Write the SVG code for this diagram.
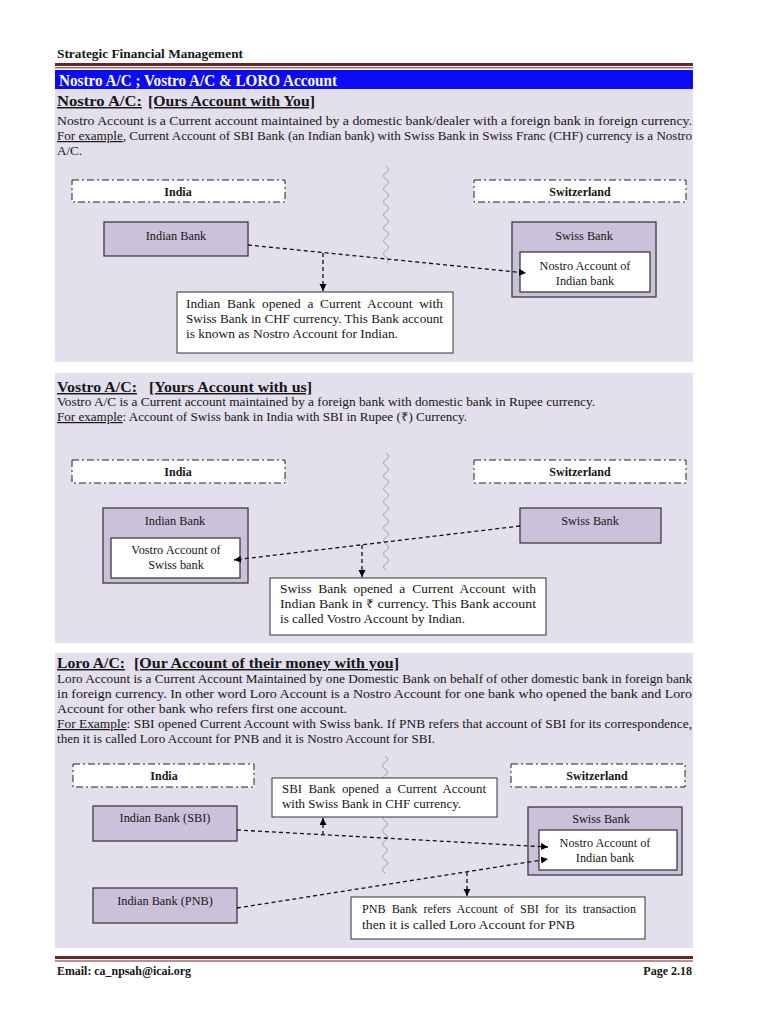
<svg xmlns="http://www.w3.org/2000/svg" width="768" height="1024" viewBox="0 0 768 1024">
<style>
text{font-family:"Liberation Serif","Times New Roman",serif;fill:#161616}
.b{font-size:12px}
.j{word-spacing:3px}
.hb{font-size:14.5px;font-weight:bold;text-decoration:underline}
.lbl{font-size:12px;font-weight:bold;text-anchor:middle}
.nt{font-size:12.3px;text-anchor:middle}
.bg{fill:#e4dfec}
.rule{fill:#6c2424}
.dd{fill:#fff;stroke:#222;stroke-width:1;stroke-dasharray:7 3 2 3}
.bank{fill:#ccc1da;stroke:#3c3c3c;stroke-width:1.3}
.inner{fill:#fff;stroke:#3c3c3c;stroke-width:1.3}
.note{fill:#fff;stroke:#333;stroke-width:1}
.wave{fill:none;stroke:#a0a0a0;stroke-width:1}
.dash{fill:none;stroke:#111;stroke-width:1.3;stroke-dasharray:4 3}
.u{text-decoration:underline}
</style>
<defs>
<marker id="ah" markerUnits="userSpaceOnUse" markerWidth="8" markerHeight="8" refX="7" refY="3.5" orient="auto">
<path d="M0,0 L7,3.5 L0,7 z" fill="#000"/>
</marker>
</defs>

<g id="page">
<rect x="0" y="0" width="768" height="1024" fill="#fff"/>
<text x="57" y="58" font-size="12.5" font-weight="bold" textLength="186" lengthAdjust="spacingAndGlyphs">Strategic Financial Management</text>
<rect class="rule" x="55" y="63" width="638" height="3"/>
<rect class="rule" x="55" y="67.3" width="638" height="1"/>
<rect x="55" y="70" width="638" height="19" fill="#0b0bf7"/>
<text x="59" y="86" font-size="16" font-weight="bold" style="fill:#fff" textLength="278" lengthAdjust="spacingAndGlyphs">Nostro A/C ; Vostro A/C &amp; LORO Account</text>
<rect class="bg" x="55" y="89" width="638" height="273"/>
<rect class="bg" x="55" y="373" width="638" height="270"/>
<rect class="bg" x="55" y="653" width="638" height="295"/>
<rect class="rule" x="55" y="956" width="638" height="3"/>
<rect class="rule" x="55" y="960.5" width="638" height="1"/>
<text x="57" y="975" font-size="12" font-weight="bold" textLength="134" lengthAdjust="spacingAndGlyphs">Email: ca_npsah@icai.org</text>
<text x="692" y="975" font-size="12" font-weight="bold" text-anchor="end">Page 2.18</text>
</g>

<g id="section1-text">
<text class="hb" x="57" y="106" textLength="85" lengthAdjust="spacingAndGlyphs">Nostro A/C:</text>
<text class="hb" x="148" y="106" textLength="167" lengthAdjust="spacingAndGlyphs">[Ours Account with You]</text>
<text class="b" x="57" y="125" textLength="635" lengthAdjust="spacingAndGlyphs">Nostro Account is a Current account maintained by a domestic bank/dealer with a foreign bank in foreign currency.</text>
<text class="b" x="57" y="140" textLength="635" lengthAdjust="spacingAndGlyphs"><tspan class="u">For example</tspan>, Current Account of SBI Bank (an Indian bank) with Swiss Bank in Swiss Franc (CHF) currency is a Nostro</text>
<text class="b" x="57" y="155" textLength="25" lengthAdjust="spacingAndGlyphs">A/C.</text>
</g>

<g id="section2-text">
<text class="hb" x="57" y="392" textLength="80" lengthAdjust="spacingAndGlyphs">Vostro A/C:</text>
<text class="hb" x="149" y="392" textLength="163" lengthAdjust="spacingAndGlyphs">[Yours Account with us]</text>
<text class="b" x="57" y="406" textLength="538" lengthAdjust="spacingAndGlyphs">Vostro A/C is a Current account maintained by a foreign bank with domestic bank in Rupee currency.</text>
<text class="b" x="57" y="421" textLength="410" lengthAdjust="spacingAndGlyphs"><tspan class="u">For example</tspan>: Account of Swiss bank in India with SBI in Rupee (₹) Currency.</text>
</g>

<g id="section3-text">
<text class="hb" x="57" y="668" textLength="68" lengthAdjust="spacingAndGlyphs">Loro A/C:</text>
<text class="hb" x="134" y="668" textLength="265" lengthAdjust="spacingAndGlyphs">[Our Account of their money with you]</text>
<text class="b" x="57" y="683" textLength="635" lengthAdjust="spacingAndGlyphs">Loro Account is a Current Account Maintained by one Domestic Bank on behalf of other domestic bank in foreign bank</text>
<text class="b" x="57" y="698" textLength="635" lengthAdjust="spacingAndGlyphs">in foreign currency. In other word Loro Account is a Nostro Account for one bank who opened the bank and Loro</text>
<text class="b" x="57" y="713" textLength="290" lengthAdjust="spacingAndGlyphs">Account for other bank who refers first one account.</text>
<text class="b" x="57" y="728" textLength="635" lengthAdjust="spacingAndGlyphs"><tspan class="u">For Example</tspan>: SBI opened Current Account with Swiss bank. If PNB refers that account of SBI for its correspondence,</text>
<text class="b" x="57" y="743" textLength="378" lengthAdjust="spacingAndGlyphs">then it is called Loro Account for PNB and it is Nostro Account for SBI.</text>
</g>

<!-- Section 1 diagram -->
<g id="s1-india"><rect class="dd" x="72" y="180" width="213" height="22"/><text class="lbl" x="178" y="196">India</text></g>
<g id="s1-switzerland"><rect class="dd" x="474" y="180" width="212" height="22"/><text class="lbl" x="580" y="196">Switzerland</text></g>
<g id="s1-border"><path class="wave" d="M386,166 q5,3.25 0,6.5 t0,6.5 t0,6.5 t0,6.5 t0,6.5 t0,6.5 t0,6.5 t0,6.5 t0,6.5 t0,6.5 t0,6.5 t0,6.5 t0,6.5 t0,6.5 t0,6.5"/></g>
<g id="s1-indian-bank"><rect class="bank" x="104" y="222" width="144" height="34"/><text class="nt" x="176" y="240">Indian Bank</text></g>
<g id="s1-swiss-bank"><rect class="bank" x="512" y="222" width="144" height="75"/><text class="nt" x="584" y="240">Swiss Bank</text>
<rect class="inner" x="520" y="252" width="130" height="40"/><text class="nt" x="585" y="270">Nostro Account of</text><text class="nt" x="585" y="285">Indian bank</text></g>
<g id="s1-note"><rect class="note" x="177" y="292" width="276" height="61"/>
<text class="b j" x="186" y="308" textLength="257" lengthAdjust="spacingAndGlyphs">Indian Bank opened a Current Account with</text>
<text class="b" x="186" y="323" textLength="257" lengthAdjust="spacingAndGlyphs">Swiss Bank in CHF currency. This Bank account</text>
<text class="b" x="186" y="338" textLength="212" lengthAdjust="spacingAndGlyphs">is known as Nostro Account for Indian.</text></g>

<!-- Section 2 diagram -->
<g id="s2-india"><rect class="dd" x="72" y="460" width="213" height="23"/><text class="lbl" x="178" y="476">India</text></g>
<g id="s2-switzerland"><rect class="dd" x="474" y="460" width="212" height="23"/><text class="lbl" x="580" y="476">Switzerland</text></g>
<g id="s2-border"><path class="wave" d="M386,453 q5,3.25 0,6.5 t0,6.5 t0,6.5 t0,6.5 t0,6.5 t0,6.5 t0,6.5 t0,6.5 t0,6.5 t0,6.5 t0,6.5 t0,6.5 t0,6.5 t0,6.5 t0,6.5 t0,6.5 t0,6.5 t0,6.5"/></g>
<g id="s2-indian-bank"><rect class="bank" x="103" y="508" width="145" height="75"/><text class="nt" x="175" y="525">Indian Bank</text>
<rect class="inner" x="111" y="538" width="129" height="40"/><text class="nt" x="176" y="554">Vostro Account of</text><text class="nt" x="176" y="569">Swiss bank</text></g>
<g id="s2-swiss-bank"><rect class="bank" x="520" y="508" width="141" height="35"/><text class="nt" x="590" y="525">Swiss Bank</text></g>
<g id="s2-note"><rect class="note" x="270" y="578" width="276" height="57"/>
<text class="b j" x="280" y="593" textLength="256" lengthAdjust="spacingAndGlyphs">Swiss Bank opened a Current Account with</text>
<text class="b" x="280" y="608" textLength="256" lengthAdjust="spacingAndGlyphs">Indian Bank in ₹ currency. This Bank account</text>
<text class="b" x="280" y="623" textLength="185" lengthAdjust="spacingAndGlyphs">is called Vostro Account by Indian.</text></g>

<!-- Section 3 diagram -->
<g id="s3-india"><rect class="dd" x="73" y="764" width="181" height="23"/><text class="lbl" x="164" y="780">India</text></g>
<g id="s3-switzerland"><rect class="dd" x="511" y="764" width="174" height="23"/><text class="lbl" x="597" y="780">Switzerland</text></g>
<g id="s3-border"><path class="wave" d="M385,756 q5,3.25 0,6.5 t0,6.5 t0,6.5 t0,6.5 t0,6.5 t0,6.5 t0,6.5 t0,6.5 t0,6.5 t0,6.5 t0,6.5 t0,6.5 t0,6.5 t0,6.5 t0,6.5 t0,6.5 t0,6.5 t0,6.5"/></g>
<g id="s3-sbi-note"><rect class="note" x="272" y="778" width="225" height="39"/>
<text class="b j" x="282" y="793" textLength="204" lengthAdjust="spacingAndGlyphs">SBI Bank opened a Current Account</text>
<text class="b" x="282" y="808" textLength="179" lengthAdjust="spacingAndGlyphs">with Swiss Bank in CHF currency.</text></g>
<g id="s3-sbi"><rect class="bank" x="93" y="806" width="144" height="35"/><text class="nt" x="165" y="822">Indian Bank (SBI)</text></g>
<g id="s3-pnb"><rect class="bank" x="93" y="888" width="144" height="35"/><text class="nt" x="165" y="905">Indian Bank (PNB)</text></g>
<g id="s3-swiss-bank"><rect class="bank" x="528" y="807" width="154" height="68"/><text class="nt" x="601" y="823">Swiss Bank</text>
<rect class="inner" x="539" y="830" width="138" height="40"/><text class="nt" x="605" y="847">Nostro Account of</text><text class="nt" x="605" y="862">Indian bank</text></g>
<g id="s3-pnb-note"><rect class="note" x="351" y="897" width="294" height="42"/>
<text class="b j" x="362" y="913" textLength="274" lengthAdjust="spacingAndGlyphs">PNB Bank refers Account of SBI for its transaction</text>
<text class="b" x="362" y="929" textLength="213" lengthAdjust="spacingAndGlyphs">then it is called Loro Account for PNB</text></g>

<g id="connectors">
<line class="dash" x1="248" y1="245" x2="526" y2="273" marker-end="url(#ah)"/>
<line class="dash" x1="323" y1="253" x2="323" y2="291" marker-end="url(#ah)"/>
<line class="dash" x1="520" y1="526" x2="234" y2="560" marker-end="url(#ah)"/>
<line class="dash" x1="362" y1="545" x2="362" y2="577" marker-end="url(#ah)"/>
<line class="dash" x1="237" y1="830" x2="548" y2="847" marker-end="url(#ah)"/>
<line class="dash" x1="237" y1="908" x2="548" y2="859" marker-end="url(#ah)"/>
<line class="dash" x1="323" y1="835" x2="323" y2="818" marker-end="url(#ah)"/>
<line class="dash" x1="467" y1="872" x2="467" y2="896" marker-end="url(#ah)"/>
</g>
</svg>
